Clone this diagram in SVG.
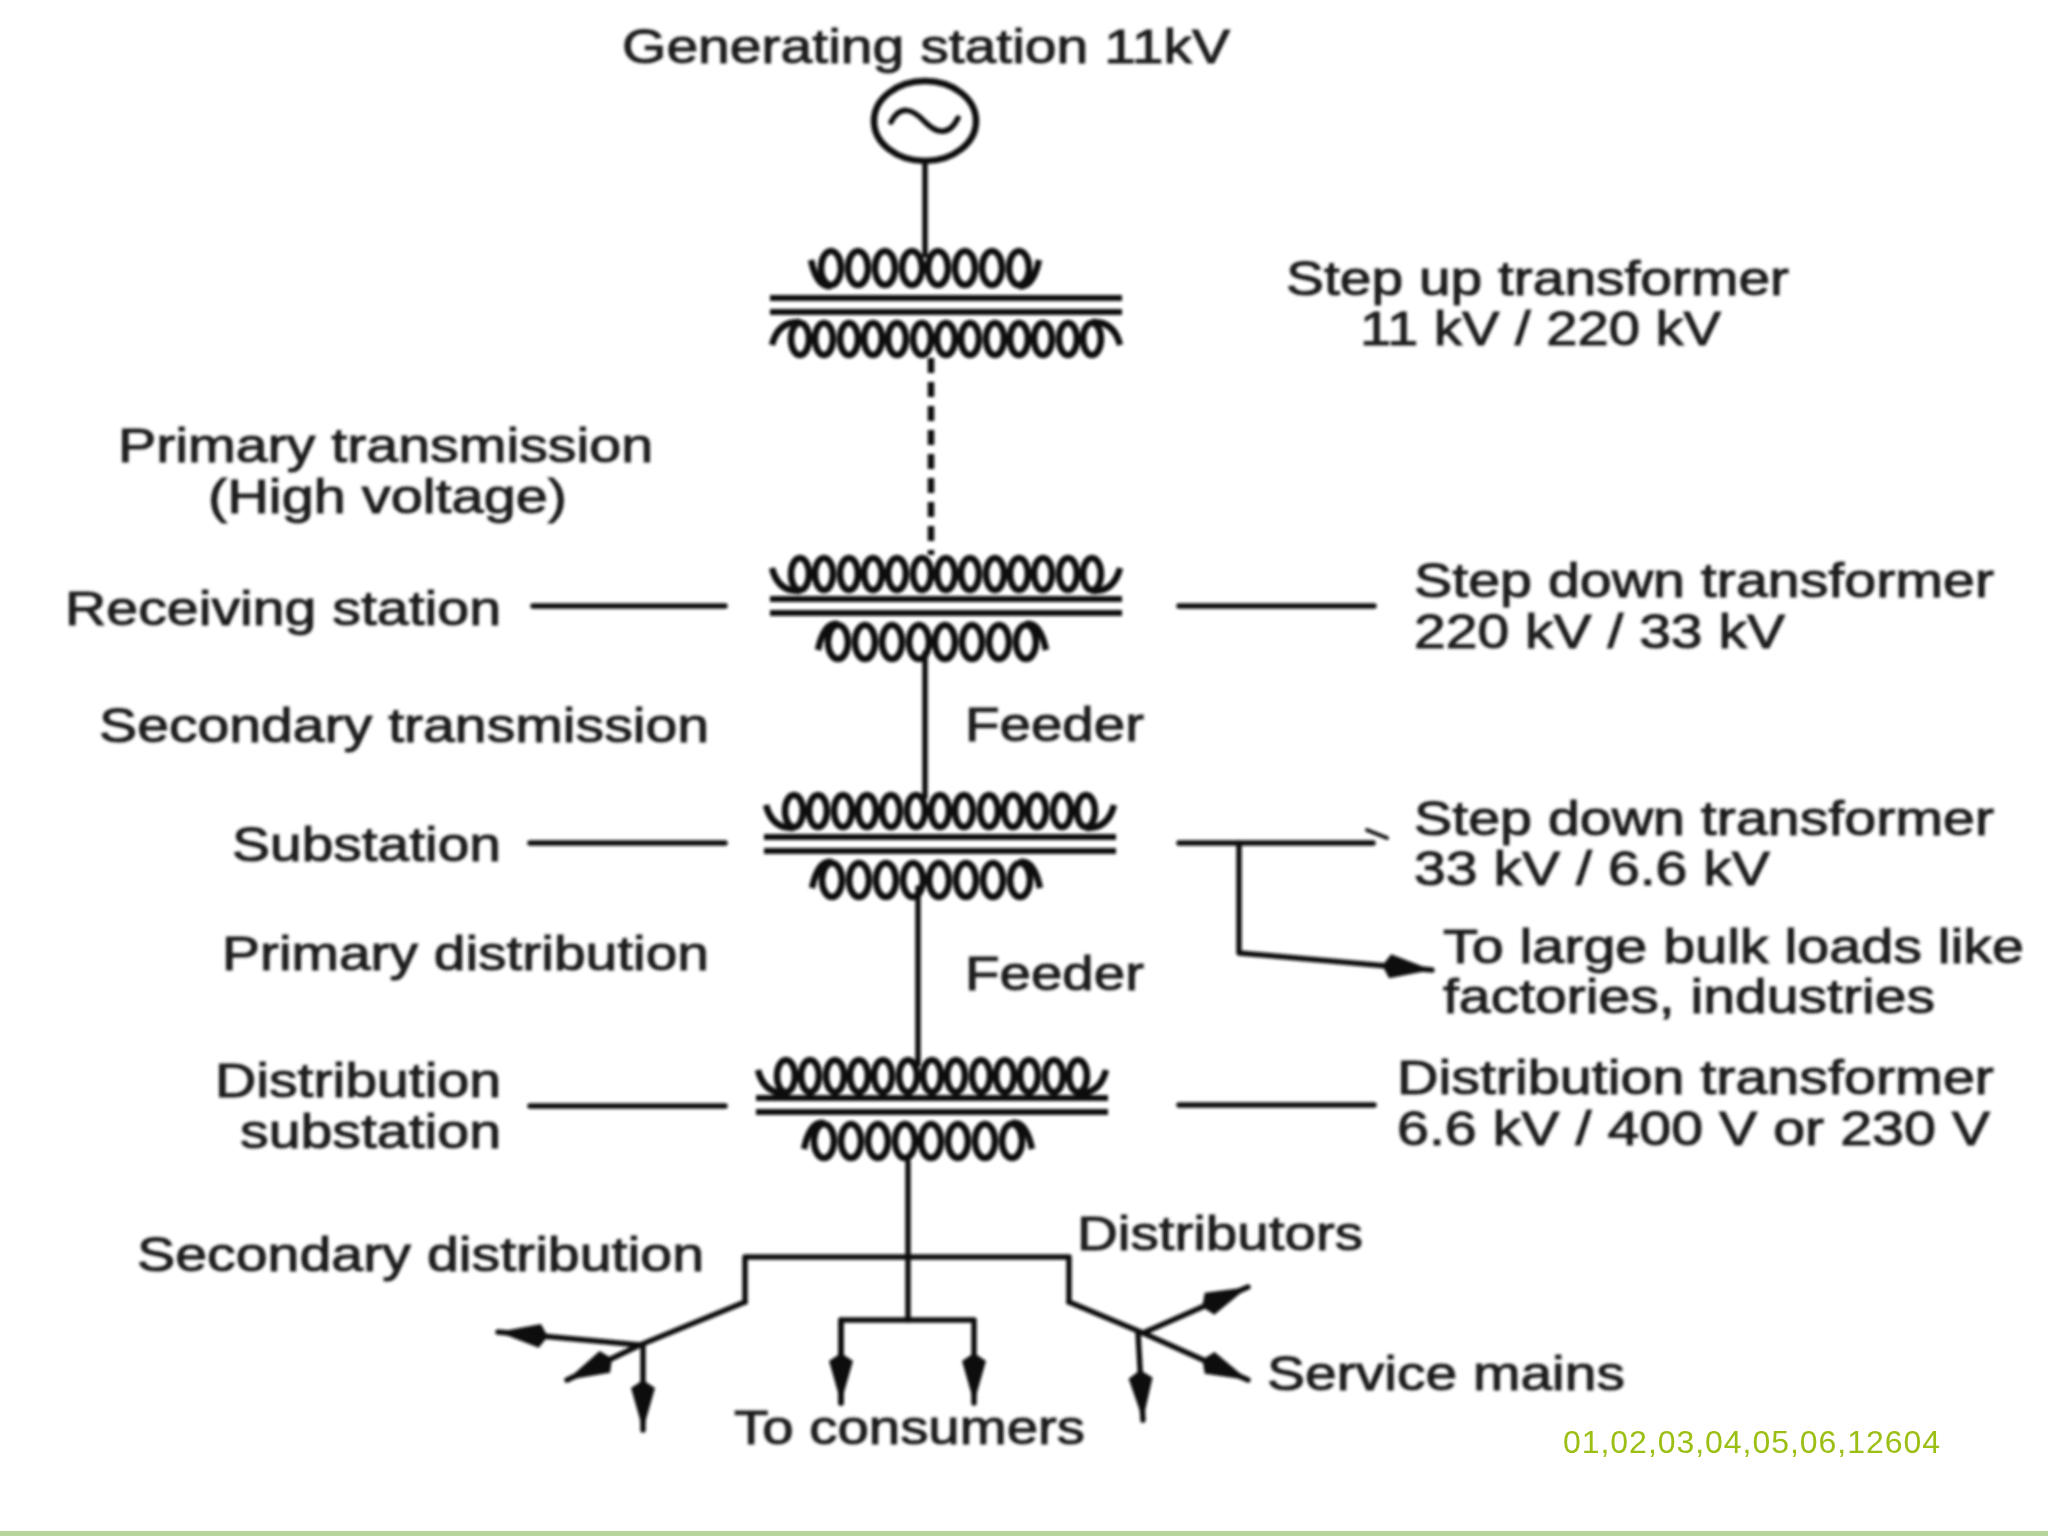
<svg xmlns="http://www.w3.org/2000/svg" width="2048" height="1536" viewBox="0 0 2048 1536">
<style>
text{font-family:"Liberation Sans",Arial,sans-serif;font-size:48px;fill:#1a1a1a;stroke:#1a1a1a;stroke-width:1px}
.w{fill:none;stroke:#111;stroke-width:5.5;stroke-linecap:round;stroke-linejoin:round}
.core{stroke:#111;stroke-width:6;fill:none}
.c{fill:none;stroke:#111;stroke-width:6.5}
.id{font-size:32px;fill:#9bbf14;stroke:none}
</style>
<defs>
<filter id="soft" x="0" y="0" width="1" height="1"><feGaussianBlur stdDeviation="1.5"/></filter>
<marker id="ah" markerUnits="userSpaceOnUse" markerWidth="56" markerHeight="30" refX="50" refY="15" orient="auto"><path d="M0,15 L8,3 L50,15 L8,27Z" fill="#111"/></marker>
<g id="coil8" class="c">
<path d="M-114,-8 Q-108,20 -94,18 M114,-8 Q108,20 94,18"/>
<ellipse cx="-94" cy="0" rx="10" ry="17"/><ellipse cx="-67" cy="0" rx="10" ry="17"/><ellipse cx="-40" cy="0" rx="10" ry="17"/><ellipse cx="-13" cy="0" rx="10" ry="17"/><ellipse cx="13" cy="0" rx="10" ry="17"/><ellipse cx="40" cy="0" rx="10" ry="17"/><ellipse cx="67" cy="0" rx="10" ry="17"/><ellipse cx="94" cy="0" rx="10" ry="17"/>
</g>
<g id="coil13" class="c">
<path d="M-174,-6 Q-168,18 -146,17 M174,-6 Q168,18 146,17"/>
<ellipse cx="-146" cy="0" rx="9" ry="16"/><ellipse cx="-122" cy="0" rx="9" ry="16"/><ellipse cx="-97" cy="0" rx="9" ry="16"/><ellipse cx="-73" cy="0" rx="9" ry="16"/><ellipse cx="-49" cy="0" rx="9" ry="16"/><ellipse cx="-24" cy="0" rx="9" ry="16"/><ellipse cx="0" cy="0" rx="9" ry="16"/><ellipse cx="24" cy="0" rx="9" ry="16"/><ellipse cx="49" cy="0" rx="9" ry="16"/><ellipse cx="73" cy="0" rx="9" ry="16"/><ellipse cx="97" cy="0" rx="9" ry="16"/><ellipse cx="122" cy="0" rx="9" ry="16"/><ellipse cx="146" cy="0" rx="9" ry="16"/>
</g>
<g id="core"><path class="core" d="M-176,-7H176M-176,7H176"/></g>
</defs>
<rect width="2048" height="1536" fill="#fff"/>
<g filter="url(#soft)">
<g id="connectors" class="w">
<path d="M925,161V255"/>
<path d="M931,358V555" stroke-dasharray="15 9" stroke-linecap="butt" stroke-width="6.5"/>
<path d="M925,653V797"/>
<path d="M918,888V1064"/>
<path d="M908,1162V1320"/>
<path d="M533,606H725M1179,606H1374"/>
<path d="M530,843H725M1179,843H1373"/>
<path d="M1367,830L1387,838" stroke-width="4"/>
<path d="M1239,843V953L1432,970" marker-end="url(#ah)"/>
<path d="M530,1106H725M1179,1105H1374"/>
<path d="M745,1302V1257H1069V1302"/>
<path d="M745,1302L640,1345"/>
<path d="M640,1345L498,1332" marker-end="url(#ah)"/>
<path d="M640,1345L567,1380" marker-end="url(#ah)"/>
<path d="M643,1345V1430" marker-end="url(#ah)"/>
<path d="M841,1403V1320H974V1403" marker-end="url(#ah)"/>
<path d="M841,1320V1403" marker-end="url(#ah)"/>
<path d="M1069,1302L1143,1333"/>
<path d="M1143,1333L1248,1287" marker-end="url(#ah)"/>
<path d="M1143,1333L1248,1380" marker-end="url(#ah)"/>
<path d="M1138,1333L1143,1420" marker-end="url(#ah)"/>
</g>
<g id="generator">
<text x="622" y="63" textLength="608" lengthAdjust="spacingAndGlyphs">Generating station 11kV</text>
<ellipse cx="925" cy="121" rx="51" ry="40" fill="none" stroke="#111" stroke-width="6.5"/>
<path class="w" d="M891,122C900,105 912,108 925,122C938,135 950,135 958,118"/>
</g>
<g id="step-up">
<use href="#coil8" transform="translate(925,268)"/>
<use href="#core" transform="translate(946,305)"/>
<use href="#coil13" transform="translate(946,339) scale(1,-1)"/>
<text x="1286" y="295" textLength="503" lengthAdjust="spacingAndGlyphs">Step up transformer</text>
<text x="1360" y="345" textLength="361" lengthAdjust="spacingAndGlyphs">11 kV / 220 kV</text>
</g>
<g id="primary-transmission">
<text x="118" y="462" textLength="535" lengthAdjust="spacingAndGlyphs">Primary transmission</text>
<text x="208" y="513" textLength="359" lengthAdjust="spacingAndGlyphs">(High voltage)</text>
</g>
<g id="receiving-station">
<use href="#coil13" transform="translate(946,574)"/>
<use href="#core" transform="translate(946,606)"/>
<use href="#coil8" transform="translate(932,642) scale(1,-1)"/>
<text x="65" y="625" textLength="436" lengthAdjust="spacingAndGlyphs">Receiving station</text>
<text x="1414" y="597" textLength="580" lengthAdjust="spacingAndGlyphs">Step down transformer</text>
<text x="1414" y="648" textLength="371" lengthAdjust="spacingAndGlyphs">220 kV / 33 kV</text>
</g>
<g id="secondary-transmission">
<text x="99" y="742" textLength="610" lengthAdjust="spacingAndGlyphs">Secondary transmission</text>
<text x="965" y="741" textLength="179" lengthAdjust="spacingAndGlyphs">Feeder</text>
</g>
<g id="substation">
<use href="#coil13" transform="translate(940,811)"/>
<use href="#core" transform="translate(940,844)"/>
<use href="#coil8" transform="translate(926,880) scale(1,-1)"/>
<text x="232" y="861" textLength="269" lengthAdjust="spacingAndGlyphs">Substation</text>
<text x="1414" y="835" textLength="580" lengthAdjust="spacingAndGlyphs">Step down transformer</text>
<text x="1414" y="885" textLength="356" lengthAdjust="spacingAndGlyphs">33 kV / 6.6 kV</text>
<text x="1443" y="963" textLength="581" lengthAdjust="spacingAndGlyphs">To large bulk loads like</text>
<text x="1443" y="1013" textLength="492" lengthAdjust="spacingAndGlyphs">factories, industries</text>
</g>
<g id="primary-distribution">
<text x="222" y="970" textLength="487" lengthAdjust="spacingAndGlyphs">Primary distribution</text>
<text x="965" y="990" textLength="179" lengthAdjust="spacingAndGlyphs">Feeder</text>
</g>
<g id="distribution-substation">
<use href="#coil13" transform="translate(932,1076)"/>
<use href="#core" transform="translate(932,1105)"/>
<use href="#coil8" transform="translate(918,1141) scale(1,-1)"/>
<text x="215" y="1097" textLength="286" lengthAdjust="spacingAndGlyphs">Distribution</text>
<text x="240" y="1148" textLength="261" lengthAdjust="spacingAndGlyphs">substation</text>
<text x="1397" y="1094" textLength="597" lengthAdjust="spacingAndGlyphs">Distribution transformer</text>
<text x="1397" y="1145" textLength="593" lengthAdjust="spacingAndGlyphs">6.6 kV / 400 V or 230 V</text>
</g>
<g id="secondary-distribution">
<text x="137" y="1271" textLength="567" lengthAdjust="spacingAndGlyphs">Secondary distribution</text>
<text x="1077" y="1250" textLength="286" lengthAdjust="spacingAndGlyphs">Distributors</text>
<text x="1267" y="1390" textLength="358" lengthAdjust="spacingAndGlyphs">Service mains</text>
<text x="734" y="1444" textLength="351" lengthAdjust="spacingAndGlyphs">To consumers</text>
</g>
</g>
<text class="id" x="1563" y="1453" textLength="377">01,02,03,04,05,06,12604</text>
<rect x="0" y="1531" width="2048" height="5" fill="#b7d59a"/>
</svg>
